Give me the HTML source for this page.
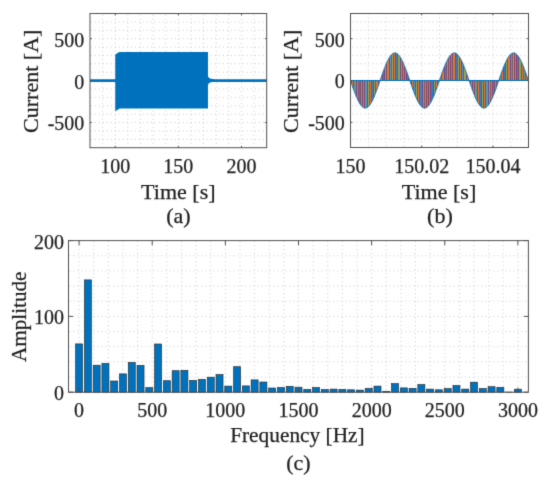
<!DOCTYPE html>
<html><head><meta charset="utf-8"><title>Figure</title>
<style>html,body{margin:0;padding:0;background:#fff;}body{width:550px;height:485px;overflow:hidden;}svg{display:block;}</style>
</head><body>
<svg width="550" height="485" viewBox="0 0 550 485"><defs><filter id="bl" x="0" y="0" width="1" height="1" color-interpolation-filters="sRGB"><feConvolveMatrix order="3" kernelMatrix="0.0144 0.0912 0.0144 0.0912 0.5776 0.0912 0.0144 0.0912 0.0144" edgeMode="duplicate"/></filter></defs><rect width="550" height="485" fill="#fff"/><g filter="url(#bl)"><rect width="550" height="485" fill="#fff"/><path d="M102.62 13.50V147.70M115.24 13.50V147.70M127.86 13.50V147.70M140.49 13.50V147.70M153.11 13.50V147.70M165.73 13.50V147.70M178.35 13.50V147.70M190.97 13.50V147.70M203.59 13.50V147.70M216.21 13.50V147.70M228.84 13.50V147.70M241.46 13.50V147.70M254.08 13.50V147.70" stroke="#cccccc" stroke-width="1" stroke-dasharray="1 3" stroke-dashoffset="2.70" fill="none"/>
<path d="M90.00 139.31H266.70M90.00 130.92H266.70M90.00 122.54H266.70M90.00 114.15H266.70M90.00 105.76H266.70M90.00 97.37H266.70M90.00 88.99H266.70M90.00 80.60H266.70M90.00 72.21H266.70M90.00 63.82H266.70M90.00 55.44H266.70M90.00 47.05H266.70M90.00 38.66H266.70M90.00 30.28H266.70M90.00 21.89H266.70" stroke="#cccccc" stroke-width="1" stroke-dasharray="1 3" stroke-dashoffset="3.20" fill="none"/>
<path d="M90.0 80.60H266.7" stroke="#0072BD" stroke-width="2.8" fill="none"/>
<path d="M115.24 80.60V111.20L119.74 108.50H208.00V52.00H119.24L115.24 54.50Z" fill="#0072BD"/>
<path d="M207.50 74.60C208.30 78.10 209.50 79.20 214.00 79.20V82.00C209.50 82.00 208.30 83.10 207.50 86.60Z" fill="#0072BD"/>
<rect x="90.0" y="13.5" width="176.70" height="134.20" fill="none" stroke="#505050" stroke-width="1"/>
<path d="M115.24 147.70v-1.8M115.24 13.50v1.8M178.35 147.70v-1.8M178.35 13.50v1.8M241.46 147.70v-1.8M241.46 13.50v1.8M90.00 122.54h1.8M266.70 122.54h-1.8M90.00 80.60h1.8M266.70 80.60h-1.8M90.00 38.66h1.8M266.70 38.66h-1.8" stroke="#505050" stroke-width="1" fill="none"/>
<path d="M368.30 13.50V147.50M386.10 13.50V147.50M403.90 13.50V147.50M421.70 13.50V147.50M439.50 13.50V147.50M457.30 13.50V147.50M475.10 13.50V147.50M492.90 13.50V147.50M510.70 13.50V147.50" stroke="#cccccc" stroke-width="1" stroke-dasharray="1 3" stroke-dashoffset="0.00" fill="none"/>
<path d="M350.50 139.12H528.50M350.50 130.75H528.50M350.50 122.38H528.50M350.50 114.00H528.50M350.50 105.62H528.50M350.50 97.25H528.50M350.50 88.88H528.50M350.50 80.50H528.50M350.50 72.12H528.50M350.50 63.75H528.50M350.50 55.38H528.50M350.50 47.00H528.50M350.50 38.62H528.50M350.50 30.25H528.50M350.50 21.88H528.50" stroke="#cccccc" stroke-width="1" stroke-dasharray="1 3" stroke-dashoffset="2.00" fill="none"/>
<defs><clipPath id="sc"><path d="M350.50 80.50L350.50 80.70L350.94 82.00L351.39 83.30L351.83 84.59L352.28 85.87L352.73 87.14L353.17 88.40L353.62 89.64L354.06 90.86L354.50 92.05L354.95 93.22L355.39 94.36L355.84 95.47L356.29 96.55L356.73 97.59L357.18 98.60L357.62 99.56L358.06 100.48L358.51 101.36L358.95 102.19L359.40 102.97L359.85 103.71L360.29 104.39L360.74 105.02L361.18 105.59L361.62 106.11L362.07 106.57L362.51 106.97L362.96 107.32L363.40 107.60L363.85 107.83L364.30 107.99L364.74 108.09L365.19 108.14L365.63 108.12L366.07 108.04L366.52 107.89L366.96 107.69L367.41 107.43L367.86 107.11L368.30 106.72L368.75 106.28L369.19 105.79L369.63 105.23L370.08 104.62L370.52 103.96L370.97 103.25L371.42 102.48L371.86 101.67L372.31 100.81L372.75 99.90L373.19 98.96L373.64 97.97L374.08 96.94L374.53 95.87L374.98 94.77L375.42 93.64L375.87 92.48L376.31 91.30L376.75 90.09L377.20 88.85L377.64 87.60L378.09 86.34L378.54 85.06L378.98 83.77L379.43 82.47L379.87 81.17L380.31 79.87L380.76 78.57L381.20 77.27L381.65 75.98L382.10 74.70L382.54 73.44L382.99 72.19L383.43 70.95L383.88 69.74L384.32 68.56L384.76 67.40L385.21 66.26L385.65 65.16L386.10 64.10L386.55 63.07L386.99 62.08L387.44 61.13L387.88 60.22L388.32 59.36L388.77 58.54L389.22 57.78L389.66 57.06L390.11 56.40L390.55 55.79L391.00 55.23L391.44 54.73L391.88 54.29L392.33 53.91L392.77 53.58L393.22 53.32L393.67 53.11L394.11 52.97L394.56 52.88L395.00 52.86L395.44 52.90L395.89 53.00L396.33 53.17L396.78 53.39L397.23 53.67L397.67 54.01L398.12 54.42L398.56 54.88L399.00 55.39L399.45 55.96L399.89 56.59L400.34 57.27L400.78 58.00L401.23 58.78L401.68 59.61L402.12 60.49L402.56 61.41L403.01 62.37L403.45 63.37L403.90 64.41L404.35 65.49L404.79 66.60L405.24 67.74L405.68 68.91L406.12 70.10L406.57 71.32L407.01 72.56L407.46 73.82L407.90 75.09L408.35 76.37L408.80 77.66L409.24 78.96L409.69 80.26L410.13 81.56L410.57 82.86L411.02 84.16L411.47 85.44L411.91 86.72L412.36 87.98L412.80 89.23L413.25 90.45L413.69 91.65L414.13 92.83L414.58 93.99L415.02 95.11L415.47 96.20L415.92 97.25L416.36 98.27L416.81 99.24L417.25 100.18L417.69 101.07L418.14 101.92L418.58 102.72L419.03 103.47L419.48 104.17L419.92 104.81L420.37 105.40L420.81 105.94L421.25 106.42L421.70 106.84L422.14 107.21L422.59 107.51L423.03 107.76L423.48 107.94L423.93 108.07L424.37 108.13L424.81 108.13L425.26 108.07L425.70 107.95L426.15 107.77L426.60 107.52L427.04 107.22L427.49 106.86L427.93 106.44L428.38 105.96L428.82 105.42L429.26 104.83L429.71 104.19L430.15 103.49L430.60 102.74L431.05 101.95L431.49 101.10L431.94 100.21L432.38 99.28L432.82 98.30L433.27 97.28L433.72 96.23L434.16 95.14L434.61 94.02L435.05 92.87L435.50 91.70L435.94 90.49L436.38 89.27L436.83 88.02L437.27 86.76L437.72 85.49L438.17 84.20L438.61 82.91L439.06 81.61L439.50 80.30L439.94 79.00L440.39 77.70L440.83 76.41L441.28 75.13L441.73 73.86L442.17 72.60L442.62 71.36L443.06 70.14L443.50 68.95L443.95 67.78L444.39 66.64L444.84 65.53L445.28 64.45L445.73 63.41L446.18 62.40L446.62 61.44L447.06 60.52L447.51 59.64L447.95 58.81L448.40 58.03L448.85 57.29L449.29 56.61L449.74 55.98L450.18 55.41L450.62 54.89L451.07 54.43L451.51 54.03L451.96 53.68L452.40 53.40L452.85 53.17L453.30 53.01L453.74 52.91L454.19 52.86L454.63 52.88L455.07 52.96L455.52 53.11L455.97 53.31L456.41 53.57L456.86 53.89L457.30 54.28L457.75 54.72L458.19 55.21L458.63 55.77L459.08 56.38L459.52 57.04L459.97 57.75L460.42 58.52L460.86 59.33L461.31 60.19L461.75 61.10L462.19 62.04L462.64 63.03L463.08 64.06L463.53 65.13L463.98 66.23L464.42 67.36L464.87 68.52L465.31 69.70L465.75 70.91L466.20 72.15L466.64 73.40L467.09 74.66L467.53 75.94L467.98 77.23L468.43 78.53L468.87 79.83L469.31 81.13L469.76 82.43L470.20 83.73L470.65 85.02L471.10 86.30L471.54 87.56L471.99 88.81L472.43 90.05L472.88 91.26L473.32 92.44L473.76 93.60L474.21 94.74L474.65 95.84L475.10 96.90L475.55 97.93L475.99 98.92L476.44 99.87L476.88 100.78L477.32 101.64L477.77 102.46L478.22 103.22L478.66 103.94L479.11 104.60L479.55 105.21L480.00 105.77L480.44 106.27L480.88 106.71L481.33 107.09L481.77 107.42L482.22 107.68L482.66 107.89L483.11 108.03L483.56 108.12L484.00 108.14L484.44 108.10L484.89 108.00L485.34 107.83L485.78 107.61L486.23 107.33L486.67 106.99L487.12 106.58L487.56 106.12L488.00 105.61L488.45 105.04L488.89 104.41L489.34 103.73L489.78 103.00L490.23 102.22L490.68 101.39L491.12 100.51L491.56 99.59L492.01 98.63L492.46 97.63L492.90 96.59L493.35 95.51L493.79 94.40L494.24 93.26L494.68 92.09L495.12 90.90L495.57 89.68L496.01 88.44L496.46 87.18L496.90 85.91L497.35 84.63L497.79 83.34L498.24 82.04L498.69 80.74L499.13 79.44L499.57 78.14L500.02 76.84L500.47 75.56L500.91 74.28L501.36 73.02L501.80 71.77L502.25 70.55L502.69 69.35L503.13 68.17L503.58 67.01L504.02 65.89L504.47 64.80L504.91 63.75L505.36 62.73L505.81 61.76L506.25 60.82L506.69 59.93L507.14 59.08L507.59 58.28L508.03 57.53L508.48 56.83L508.92 56.19L509.37 55.60L509.81 55.06L510.25 54.58L510.70 54.16L511.14 53.79L511.59 53.49L512.03 53.24L512.48 53.06L512.92 52.93L513.37 52.87L513.82 52.87L514.26 52.93L514.71 53.05L515.15 53.23L515.60 53.48L516.04 53.78L516.49 54.14L516.93 54.56L517.38 55.04L517.82 55.58L518.26 56.17L518.71 56.81L519.15 57.51L519.60 58.26L520.04 59.05L520.49 59.90L520.93 60.79L521.38 61.72L521.83 62.70L522.27 63.72L522.72 64.77L523.16 65.86L523.61 66.98L524.05 68.13L524.50 69.30L524.94 70.51L525.38 71.73L525.83 72.98L526.27 74.24L526.72 75.51L527.16 76.80L527.61 78.09L528.06 79.39L528.50 80.70L528.50 80.50Z"/></clipPath></defs>
<g clip-path="url(#sc)"><rect x="349" y="13.5" width="1" height="134.00" fill="#8A4672"/><rect x="350" y="13.5" width="1" height="134.00" fill="#7FAF45"/><rect x="351" y="13.5" width="1" height="134.00" fill="#7A4488"/><rect x="352" y="13.5" width="1" height="134.00" fill="#DC7A2A"/><rect x="353" y="13.5" width="1" height="134.00" fill="#8A4672"/><rect x="354" y="13.5" width="1" height="134.00" fill="#6E9A7A"/><rect x="355" y="13.5" width="1" height="134.00" fill="#6E9A7A"/><rect x="356" y="13.5" width="1" height="134.00" fill="#6A4A9A"/><rect x="357" y="13.5" width="1" height="134.00" fill="#DC7A2A"/><rect x="358" y="13.5" width="1" height="134.00" fill="#94506E"/><rect x="359" y="13.5" width="1" height="134.00" fill="#2F7FC8"/><rect x="360" y="13.5" width="1" height="134.00" fill="#8A4672"/><rect x="361" y="13.5" width="1" height="134.00" fill="#7FAF45"/><rect x="362" y="13.5" width="1" height="134.00" fill="#7A4488"/><rect x="363" y="13.5" width="1" height="134.00" fill="#DC7A2A"/><rect x="364" y="13.5" width="1" height="134.00" fill="#8A4672"/><rect x="365" y="13.5" width="1" height="134.00" fill="#4AA0B8"/><rect x="366" y="13.5" width="1" height="134.00" fill="#4AA0B8"/><rect x="367" y="13.5" width="1" height="134.00" fill="#6A4A9A"/><rect x="368" y="13.5" width="1" height="134.00" fill="#9AAA40"/><rect x="369" y="13.5" width="1" height="134.00" fill="#94506E"/><rect x="370" y="13.5" width="1" height="134.00" fill="#DC7A2A"/><rect x="371" y="13.5" width="1" height="134.00" fill="#8A4672"/><rect x="372" y="13.5" width="1" height="134.00" fill="#3F86C0"/><rect x="373" y="13.5" width="1" height="134.00" fill="#7A4488"/><rect x="374" y="13.5" width="1" height="134.00" fill="#7FAF45"/><rect x="375" y="13.5" width="1" height="134.00" fill="#8A4672"/><rect x="376" y="13.5" width="1" height="134.00" fill="#DC7A2A"/><rect x="377" y="13.5" width="1" height="134.00" fill="#DC7A2A"/><rect x="378" y="13.5" width="1" height="134.00" fill="#6A4A9A"/><rect x="379" y="13.5" width="1" height="134.00" fill="#6E9A7A"/><rect x="380" y="13.5" width="1" height="134.00" fill="#94506E"/><rect x="381" y="13.5" width="1" height="134.00" fill="#DC7A2A"/><rect x="382" y="13.5" width="1" height="134.00" fill="#8A4672"/><rect x="383" y="13.5" width="1" height="134.00" fill="#2F7FC8"/><rect x="384" y="13.5" width="1" height="134.00" fill="#7A4488"/><rect x="385" y="13.5" width="1" height="134.00" fill="#7FAF45"/><rect x="386" y="13.5" width="1" height="134.00" fill="#8A4672"/><rect x="387" y="13.5" width="1" height="134.00" fill="#DC7A2A"/><rect x="388" y="13.5" width="1" height="134.00" fill="#DC7A2A"/><rect x="389" y="13.5" width="1" height="134.00" fill="#6A4A9A"/><rect x="390" y="13.5" width="1" height="134.00" fill="#4AA0B8"/><rect x="391" y="13.5" width="1" height="134.00" fill="#94506E"/><rect x="392" y="13.5" width="1" height="134.00" fill="#9AAA40"/><rect x="393" y="13.5" width="1" height="134.00" fill="#8A4672"/><rect x="394" y="13.5" width="1" height="134.00" fill="#DC7A2A"/><rect x="395" y="13.5" width="1" height="134.00" fill="#7A4488"/><rect x="396" y="13.5" width="1" height="134.00" fill="#3F86C0"/><rect x="397" y="13.5" width="1" height="134.00" fill="#8A4672"/><rect x="398" y="13.5" width="1" height="134.00" fill="#7FAF45"/><rect x="399" y="13.5" width="1" height="134.00" fill="#7FAF45"/><rect x="400" y="13.5" width="1" height="134.00" fill="#6A4A9A"/><rect x="401" y="13.5" width="1" height="134.00" fill="#DC7A2A"/><rect x="402" y="13.5" width="1" height="134.00" fill="#94506E"/><rect x="403" y="13.5" width="1" height="134.00" fill="#6E9A7A"/><rect x="404" y="13.5" width="1" height="134.00" fill="#8A4672"/><rect x="405" y="13.5" width="1" height="134.00" fill="#DC7A2A"/><rect x="406" y="13.5" width="1" height="134.00" fill="#7A4488"/><rect x="407" y="13.5" width="1" height="134.00" fill="#2F7FC8"/><rect x="408" y="13.5" width="1" height="134.00" fill="#8A4672"/><rect x="409" y="13.5" width="1" height="134.00" fill="#7FAF45"/><rect x="410" y="13.5" width="1" height="134.00" fill="#7FAF45"/><rect x="411" y="13.5" width="1" height="134.00" fill="#6A4A9A"/><rect x="412" y="13.5" width="1" height="134.00" fill="#DC7A2A"/><rect x="413" y="13.5" width="1" height="134.00" fill="#94506E"/><rect x="414" y="13.5" width="1" height="134.00" fill="#4AA0B8"/><rect x="415" y="13.5" width="1" height="134.00" fill="#8A4672"/><rect x="416" y="13.5" width="1" height="134.00" fill="#9AAA40"/><rect x="417" y="13.5" width="1" height="134.00" fill="#7A4488"/><rect x="418" y="13.5" width="1" height="134.00" fill="#DC7A2A"/><rect x="419" y="13.5" width="1" height="134.00" fill="#8A4672"/><rect x="420" y="13.5" width="1" height="134.00" fill="#3F86C0"/><rect x="421" y="13.5" width="1" height="134.00" fill="#3F86C0"/><rect x="422" y="13.5" width="1" height="134.00" fill="#6A4A9A"/><rect x="423" y="13.5" width="1" height="134.00" fill="#7FAF45"/><rect x="424" y="13.5" width="1" height="134.00" fill="#94506E"/><rect x="425" y="13.5" width="1" height="134.00" fill="#DC7A2A"/><rect x="426" y="13.5" width="1" height="134.00" fill="#8A4672"/><rect x="427" y="13.5" width="1" height="134.00" fill="#6E9A7A"/><rect x="428" y="13.5" width="1" height="134.00" fill="#7A4488"/><rect x="429" y="13.5" width="1" height="134.00" fill="#DC7A2A"/><rect x="430" y="13.5" width="1" height="134.00" fill="#8A4672"/><rect x="431" y="13.5" width="1" height="134.00" fill="#2F7FC8"/><rect x="432" y="13.5" width="1" height="134.00" fill="#2F7FC8"/><rect x="433" y="13.5" width="1" height="134.00" fill="#6A4A9A"/><rect x="434" y="13.5" width="1" height="134.00" fill="#7FAF45"/><rect x="435" y="13.5" width="1" height="134.00" fill="#94506E"/><rect x="436" y="13.5" width="1" height="134.00" fill="#DC7A2A"/><rect x="437" y="13.5" width="1" height="134.00" fill="#8A4672"/><rect x="438" y="13.5" width="1" height="134.00" fill="#4AA0B8"/><rect x="439" y="13.5" width="1" height="134.00" fill="#7A4488"/><rect x="440" y="13.5" width="1" height="134.00" fill="#9AAA40"/><rect x="441" y="13.5" width="1" height="134.00" fill="#8A4672"/><rect x="442" y="13.5" width="1" height="134.00" fill="#DC7A2A"/><rect x="443" y="13.5" width="1" height="134.00" fill="#DC7A2A"/><rect x="444" y="13.5" width="1" height="134.00" fill="#6A4A9A"/><rect x="445" y="13.5" width="1" height="134.00" fill="#3F86C0"/><rect x="446" y="13.5" width="1" height="134.00" fill="#94506E"/><rect x="447" y="13.5" width="1" height="134.00" fill="#7FAF45"/><rect x="448" y="13.5" width="1" height="134.00" fill="#8A4672"/><rect x="449" y="13.5" width="1" height="134.00" fill="#DC7A2A"/><rect x="450" y="13.5" width="1" height="134.00" fill="#7A4488"/><rect x="451" y="13.5" width="1" height="134.00" fill="#6E9A7A"/><rect x="452" y="13.5" width="1" height="134.00" fill="#8A4672"/><rect x="453" y="13.5" width="1" height="134.00" fill="#DC7A2A"/><rect x="454" y="13.5" width="1" height="134.00" fill="#DC7A2A"/><rect x="455" y="13.5" width="1" height="134.00" fill="#6A4A9A"/><rect x="456" y="13.5" width="1" height="134.00" fill="#2F7FC8"/><rect x="457" y="13.5" width="1" height="134.00" fill="#94506E"/><rect x="458" y="13.5" width="1" height="134.00" fill="#7FAF45"/><rect x="459" y="13.5" width="1" height="134.00" fill="#8A4672"/><rect x="460" y="13.5" width="1" height="134.00" fill="#DC7A2A"/><rect x="461" y="13.5" width="1" height="134.00" fill="#7A4488"/><rect x="462" y="13.5" width="1" height="134.00" fill="#4AA0B8"/><rect x="463" y="13.5" width="1" height="134.00" fill="#8A4672"/><rect x="464" y="13.5" width="1" height="134.00" fill="#9AAA40"/><rect x="465" y="13.5" width="1" height="134.00" fill="#9AAA40"/><rect x="466" y="13.5" width="1" height="134.00" fill="#6A4A9A"/><rect x="467" y="13.5" width="1" height="134.00" fill="#DC7A2A"/><rect x="468" y="13.5" width="1" height="134.00" fill="#94506E"/><rect x="469" y="13.5" width="1" height="134.00" fill="#3F86C0"/><rect x="470" y="13.5" width="1" height="134.00" fill="#8A4672"/><rect x="471" y="13.5" width="1" height="134.00" fill="#7FAF45"/><rect x="472" y="13.5" width="1" height="134.00" fill="#7A4488"/><rect x="473" y="13.5" width="1" height="134.00" fill="#DC7A2A"/><rect x="474" y="13.5" width="1" height="134.00" fill="#8A4672"/><rect x="475" y="13.5" width="1" height="134.00" fill="#6E9A7A"/><rect x="476" y="13.5" width="1" height="134.00" fill="#6E9A7A"/><rect x="477" y="13.5" width="1" height="134.00" fill="#6A4A9A"/><rect x="478" y="13.5" width="1" height="134.00" fill="#DC7A2A"/><rect x="479" y="13.5" width="1" height="134.00" fill="#94506E"/><rect x="480" y="13.5" width="1" height="134.00" fill="#2F7FC8"/><rect x="481" y="13.5" width="1" height="134.00" fill="#8A4672"/><rect x="482" y="13.5" width="1" height="134.00" fill="#7FAF45"/><rect x="483" y="13.5" width="1" height="134.00" fill="#7A4488"/><rect x="484" y="13.5" width="1" height="134.00" fill="#DC7A2A"/><rect x="485" y="13.5" width="1" height="134.00" fill="#8A4672"/><rect x="486" y="13.5" width="1" height="134.00" fill="#4AA0B8"/><rect x="487" y="13.5" width="1" height="134.00" fill="#4AA0B8"/><rect x="488" y="13.5" width="1" height="134.00" fill="#6A4A9A"/><rect x="489" y="13.5" width="1" height="134.00" fill="#9AAA40"/><rect x="490" y="13.5" width="1" height="134.00" fill="#94506E"/><rect x="491" y="13.5" width="1" height="134.00" fill="#DC7A2A"/><rect x="492" y="13.5" width="1" height="134.00" fill="#8A4672"/><rect x="493" y="13.5" width="1" height="134.00" fill="#3F86C0"/><rect x="494" y="13.5" width="1" height="134.00" fill="#7A4488"/><rect x="495" y="13.5" width="1" height="134.00" fill="#7FAF45"/><rect x="496" y="13.5" width="1" height="134.00" fill="#8A4672"/><rect x="497" y="13.5" width="1" height="134.00" fill="#DC7A2A"/><rect x="498" y="13.5" width="1" height="134.00" fill="#DC7A2A"/><rect x="499" y="13.5" width="1" height="134.00" fill="#6A4A9A"/><rect x="500" y="13.5" width="1" height="134.00" fill="#6E9A7A"/><rect x="501" y="13.5" width="1" height="134.00" fill="#94506E"/><rect x="502" y="13.5" width="1" height="134.00" fill="#DC7A2A"/><rect x="503" y="13.5" width="1" height="134.00" fill="#8A4672"/><rect x="504" y="13.5" width="1" height="134.00" fill="#2F7FC8"/><rect x="505" y="13.5" width="1" height="134.00" fill="#7A4488"/><rect x="506" y="13.5" width="1" height="134.00" fill="#7FAF45"/><rect x="507" y="13.5" width="1" height="134.00" fill="#8A4672"/><rect x="508" y="13.5" width="1" height="134.00" fill="#DC7A2A"/><rect x="509" y="13.5" width="1" height="134.00" fill="#DC7A2A"/><rect x="510" y="13.5" width="1" height="134.00" fill="#6A4A9A"/><rect x="511" y="13.5" width="1" height="134.00" fill="#4AA0B8"/><rect x="512" y="13.5" width="1" height="134.00" fill="#94506E"/><rect x="513" y="13.5" width="1" height="134.00" fill="#9AAA40"/><rect x="514" y="13.5" width="1" height="134.00" fill="#8A4672"/><rect x="515" y="13.5" width="1" height="134.00" fill="#DC7A2A"/><rect x="516" y="13.5" width="1" height="134.00" fill="#7A4488"/><rect x="517" y="13.5" width="1" height="134.00" fill="#3F86C0"/><rect x="518" y="13.5" width="1" height="134.00" fill="#8A4672"/><rect x="519" y="13.5" width="1" height="134.00" fill="#7FAF45"/><rect x="520" y="13.5" width="1" height="134.00" fill="#7FAF45"/><rect x="521" y="13.5" width="1" height="134.00" fill="#6A4A9A"/><rect x="522" y="13.5" width="1" height="134.00" fill="#DC7A2A"/><rect x="523" y="13.5" width="1" height="134.00" fill="#94506E"/><rect x="524" y="13.5" width="1" height="134.00" fill="#6E9A7A"/><rect x="525" y="13.5" width="1" height="134.00" fill="#8A4672"/><rect x="526" y="13.5" width="1" height="134.00" fill="#DC7A2A"/><rect x="527" y="13.5" width="1" height="134.00" fill="#7A4488"/><rect x="528" y="13.5" width="1" height="134.00" fill="#2F7FC8"/><rect x="529" y="13.5" width="1" height="134.00" fill="#8A4672"/></g>
<path d="M350.50 80.70L350.94 82.00L351.39 83.30L351.83 84.59L352.28 85.87L352.73 87.14L353.17 88.40L353.62 89.64L354.06 90.86L354.50 92.05L354.95 93.22L355.39 94.36L355.84 95.47L356.29 96.55L356.73 97.59L357.18 98.60L357.62 99.56L358.06 100.48L358.51 101.36L358.95 102.19L359.40 102.97L359.85 103.71L360.29 104.39L360.74 105.02L361.18 105.59L361.62 106.11L362.07 106.57L362.51 106.97L362.96 107.32L363.40 107.60L363.85 107.83L364.30 107.99L364.74 108.09L365.19 108.14L365.63 108.12L366.07 108.04L366.52 107.89L366.96 107.69L367.41 107.43L367.86 107.11L368.30 106.72L368.75 106.28L369.19 105.79L369.63 105.23L370.08 104.62L370.52 103.96L370.97 103.25L371.42 102.48L371.86 101.67L372.31 100.81L372.75 99.90L373.19 98.96L373.64 97.97L374.08 96.94L374.53 95.87L374.98 94.77L375.42 93.64L375.87 92.48L376.31 91.30L376.75 90.09L377.20 88.85L377.64 87.60L378.09 86.34L378.54 85.06L378.98 83.77L379.43 82.47L379.87 81.17L380.31 79.87L380.76 78.57L381.20 77.27L381.65 75.98L382.10 74.70L382.54 73.44L382.99 72.19L383.43 70.95L383.88 69.74L384.32 68.56L384.76 67.40L385.21 66.26L385.65 65.16L386.10 64.10L386.55 63.07L386.99 62.08L387.44 61.13L387.88 60.22L388.32 59.36L388.77 58.54L389.22 57.78L389.66 57.06L390.11 56.40L390.55 55.79L391.00 55.23L391.44 54.73L391.88 54.29L392.33 53.91L392.77 53.58L393.22 53.32L393.67 53.11L394.11 52.97L394.56 52.88L395.00 52.86L395.44 52.90L395.89 53.00L396.33 53.17L396.78 53.39L397.23 53.67L397.67 54.01L398.12 54.42L398.56 54.88L399.00 55.39L399.45 55.96L399.89 56.59L400.34 57.27L400.78 58.00L401.23 58.78L401.68 59.61L402.12 60.49L402.56 61.41L403.01 62.37L403.45 63.37L403.90 64.41L404.35 65.49L404.79 66.60L405.24 67.74L405.68 68.91L406.12 70.10L406.57 71.32L407.01 72.56L407.46 73.82L407.90 75.09L408.35 76.37L408.80 77.66L409.24 78.96L409.69 80.26L410.13 81.56L410.57 82.86L411.02 84.16L411.47 85.44L411.91 86.72L412.36 87.98L412.80 89.23L413.25 90.45L413.69 91.65L414.13 92.83L414.58 93.99L415.02 95.11L415.47 96.20L415.92 97.25L416.36 98.27L416.81 99.24L417.25 100.18L417.69 101.07L418.14 101.92L418.58 102.72L419.03 103.47L419.48 104.17L419.92 104.81L420.37 105.40L420.81 105.94L421.25 106.42L421.70 106.84L422.14 107.21L422.59 107.51L423.03 107.76L423.48 107.94L423.93 108.07L424.37 108.13L424.81 108.13L425.26 108.07L425.70 107.95L426.15 107.77L426.60 107.52L427.04 107.22L427.49 106.86L427.93 106.44L428.38 105.96L428.82 105.42L429.26 104.83L429.71 104.19L430.15 103.49L430.60 102.74L431.05 101.95L431.49 101.10L431.94 100.21L432.38 99.28L432.82 98.30L433.27 97.28L433.72 96.23L434.16 95.14L434.61 94.02L435.05 92.87L435.50 91.70L435.94 90.49L436.38 89.27L436.83 88.02L437.27 86.76L437.72 85.49L438.17 84.20L438.61 82.91L439.06 81.61L439.50 80.30L439.94 79.00L440.39 77.70L440.83 76.41L441.28 75.13L441.73 73.86L442.17 72.60L442.62 71.36L443.06 70.14L443.50 68.95L443.95 67.78L444.39 66.64L444.84 65.53L445.28 64.45L445.73 63.41L446.18 62.40L446.62 61.44L447.06 60.52L447.51 59.64L447.95 58.81L448.40 58.03L448.85 57.29L449.29 56.61L449.74 55.98L450.18 55.41L450.62 54.89L451.07 54.43L451.51 54.03L451.96 53.68L452.40 53.40L452.85 53.17L453.30 53.01L453.74 52.91L454.19 52.86L454.63 52.88L455.07 52.96L455.52 53.11L455.97 53.31L456.41 53.57L456.86 53.89L457.30 54.28L457.75 54.72L458.19 55.21L458.63 55.77L459.08 56.38L459.52 57.04L459.97 57.75L460.42 58.52L460.86 59.33L461.31 60.19L461.75 61.10L462.19 62.04L462.64 63.03L463.08 64.06L463.53 65.13L463.98 66.23L464.42 67.36L464.87 68.52L465.31 69.70L465.75 70.91L466.20 72.15L466.64 73.40L467.09 74.66L467.53 75.94L467.98 77.23L468.43 78.53L468.87 79.83L469.31 81.13L469.76 82.43L470.20 83.73L470.65 85.02L471.10 86.30L471.54 87.56L471.99 88.81L472.43 90.05L472.88 91.26L473.32 92.44L473.76 93.60L474.21 94.74L474.65 95.84L475.10 96.90L475.55 97.93L475.99 98.92L476.44 99.87L476.88 100.78L477.32 101.64L477.77 102.46L478.22 103.22L478.66 103.94L479.11 104.60L479.55 105.21L480.00 105.77L480.44 106.27L480.88 106.71L481.33 107.09L481.77 107.42L482.22 107.68L482.66 107.89L483.11 108.03L483.56 108.12L484.00 108.14L484.44 108.10L484.89 108.00L485.34 107.83L485.78 107.61L486.23 107.33L486.67 106.99L487.12 106.58L487.56 106.12L488.00 105.61L488.45 105.04L488.89 104.41L489.34 103.73L489.78 103.00L490.23 102.22L490.68 101.39L491.12 100.51L491.56 99.59L492.01 98.63L492.46 97.63L492.90 96.59L493.35 95.51L493.79 94.40L494.24 93.26L494.68 92.09L495.12 90.90L495.57 89.68L496.01 88.44L496.46 87.18L496.90 85.91L497.35 84.63L497.79 83.34L498.24 82.04L498.69 80.74L499.13 79.44L499.57 78.14L500.02 76.84L500.47 75.56L500.91 74.28L501.36 73.02L501.80 71.77L502.25 70.55L502.69 69.35L503.13 68.17L503.58 67.01L504.02 65.89L504.47 64.80L504.91 63.75L505.36 62.73L505.81 61.76L506.25 60.82L506.69 59.93L507.14 59.08L507.59 58.28L508.03 57.53L508.48 56.83L508.92 56.19L509.37 55.60L509.81 55.06L510.25 54.58L510.70 54.16L511.14 53.79L511.59 53.49L512.03 53.24L512.48 53.06L512.92 52.93L513.37 52.87L513.82 52.87L514.26 52.93L514.71 53.05L515.15 53.23L515.60 53.48L516.04 53.78L516.49 54.14L516.93 54.56L517.38 55.04L517.82 55.58L518.26 56.17L518.71 56.81L519.15 57.51L519.60 58.26L520.04 59.05L520.49 59.90L520.93 60.79L521.38 61.72L521.83 62.70L522.27 63.72L522.72 64.77L523.16 65.86L523.61 66.98L524.05 68.13L524.50 69.30L524.94 70.51L525.38 71.73L525.83 72.98L526.27 74.24L526.72 75.51L527.16 76.80L527.61 78.09L528.06 79.39L528.50 80.70" stroke="#0072BD" stroke-width="0.9" fill="none"/>
<path d="M350.5 80.50H528.5" stroke="#0072BD" stroke-width="1.0" fill="none"/>
<rect x="350.5" y="13.5" width="178.00" height="134.00" fill="none" stroke="#505050" stroke-width="1"/>
<path d="M350.50 147.50v-1.8M350.50 13.50v1.8M421.70 147.50v-1.8M421.70 13.50v1.8M492.90 147.50v-1.8M492.90 13.50v1.8M350.50 122.38h1.8M528.50 122.38h-1.8M350.50 80.50h1.8M528.50 80.50h-1.8M350.50 38.62h1.8M528.50 38.62h-1.8" stroke="#505050" stroke-width="1" fill="none"/>
<path d="M79.10 240.60V392.20M93.73 240.60V392.20M108.35 240.60V392.20M122.98 240.60V392.20M137.61 240.60V392.20M152.23 240.60V392.20M166.86 240.60V392.20M181.49 240.60V392.20M196.11 240.60V392.20M210.74 240.60V392.20M225.37 240.60V392.20M239.99 240.60V392.20M254.62 240.60V392.20M269.25 240.60V392.20M283.87 240.60V392.20M298.50 240.60V392.20M313.13 240.60V392.20M327.75 240.60V392.20M342.38 240.60V392.20M357.01 240.60V392.20M371.63 240.60V392.20M386.26 240.60V392.20M400.89 240.60V392.20M415.51 240.60V392.20M430.14 240.60V392.20M444.77 240.60V392.20M459.39 240.60V392.20M474.02 240.60V392.20M488.65 240.60V392.20M503.27 240.60V392.20M517.90 240.60V392.20" stroke="#cccccc" stroke-width="1" stroke-dasharray="1 3" stroke-dashoffset="3.50" fill="none"/>
<path d="M68.50 377.04H528.40M68.50 361.88H528.40M68.50 346.72H528.40M68.50 331.56H528.40M68.50 316.40H528.40M68.50 301.24H528.40M68.50 286.08H528.40M68.50 270.92H528.40M68.50 255.76H528.40" stroke="#cccccc" stroke-width="1" stroke-dasharray="1 3" stroke-dashoffset="3.10" fill="none"/>
<g fill="#0072BD" stroke="#222" stroke-width="0.6"><rect x="75.59" y="343.90" width="7.02" height="48.30"/><rect x="84.37" y="279.90" width="7.02" height="112.30"/><rect x="93.14" y="365.20" width="7.02" height="27.00"/><rect x="101.92" y="363.40" width="7.02" height="28.80"/><rect x="110.69" y="381.00" width="7.02" height="11.20"/><rect x="119.47" y="373.90" width="7.02" height="18.30"/><rect x="128.25" y="362.40" width="7.02" height="29.80"/><rect x="137.02" y="365.40" width="7.02" height="26.80"/><rect x="145.80" y="387.60" width="7.02" height="4.60"/><rect x="154.57" y="344.00" width="7.02" height="48.20"/><rect x="163.35" y="380.70" width="7.02" height="11.50"/><rect x="172.13" y="370.70" width="7.02" height="21.50"/><rect x="180.90" y="370.30" width="7.02" height="21.90"/><rect x="189.68" y="380.40" width="7.02" height="11.80"/><rect x="198.45" y="379.40" width="7.02" height="12.80"/><rect x="207.23" y="377.20" width="7.02" height="15.00"/><rect x="216.01" y="374.50" width="7.02" height="17.70"/><rect x="224.78" y="386.10" width="7.02" height="6.10"/><rect x="233.56" y="366.70" width="7.02" height="25.50"/><rect x="242.33" y="385.90" width="7.02" height="6.30"/><rect x="251.11" y="379.90" width="7.02" height="12.30"/><rect x="259.89" y="382.00" width="7.02" height="10.20"/><rect x="268.66" y="388.00" width="7.02" height="4.20"/><rect x="277.44" y="387.50" width="7.02" height="4.70"/><rect x="286.21" y="386.30" width="7.02" height="5.90"/><rect x="294.99" y="387.20" width="7.02" height="5.00"/><rect x="303.77" y="389.40" width="7.02" height="2.80"/><rect x="312.54" y="387.50" width="7.02" height="4.70"/><rect x="321.32" y="389.60" width="7.02" height="2.60"/><rect x="330.09" y="389.10" width="7.02" height="3.10"/><rect x="338.87" y="389.40" width="7.02" height="2.80"/><rect x="347.65" y="389.80" width="7.02" height="2.40"/><rect x="356.42" y="390.10" width="7.02" height="2.10"/><rect x="365.20" y="388.40" width="7.02" height="3.80"/><rect x="373.97" y="386.10" width="7.02" height="6.10"/><rect x="382.75" y="391.30" width="7.02" height="0.90"/><rect x="391.53" y="383.60" width="7.02" height="8.60"/><rect x="400.30" y="387.90" width="7.02" height="4.30"/><rect x="409.08" y="388.30" width="7.02" height="3.90"/><rect x="417.85" y="384.50" width="7.02" height="7.70"/><rect x="426.63" y="389.10" width="7.02" height="3.10"/><rect x="435.41" y="389.80" width="7.02" height="2.40"/><rect x="444.18" y="388.60" width="7.02" height="3.60"/><rect x="452.96" y="385.50" width="7.02" height="6.70"/><rect x="461.73" y="389.10" width="7.02" height="3.10"/><rect x="470.51" y="382.20" width="7.02" height="10.00"/><rect x="479.29" y="388.50" width="7.02" height="3.70"/><rect x="488.06" y="386.70" width="7.02" height="5.50"/><rect x="496.84" y="387.30" width="7.02" height="4.90"/><rect x="505.61" y="392.10" width="7.02" height="0.10"/><rect x="514.39" y="389.20" width="7.02" height="3.00"/></g>
<rect x="68.5" y="240.6" width="459.90" height="151.60" fill="none" stroke="#505050" stroke-width="1"/>
<path d="M79.10 392.20v-4.6M79.10 240.60v4.6M152.23 392.20v-4.6M152.23 240.60v4.6M225.37 392.20v-4.6M225.37 240.60v4.6M298.50 392.20v-4.6M298.50 240.60v4.6M371.63 392.20v-4.6M371.63 240.60v4.6M444.77 392.20v-4.6M444.77 240.60v4.6M517.90 392.20v-4.6M517.90 240.60v4.6M68.50 392.20h4.6M528.40 392.20h-4.6M68.50 316.40h4.6M528.40 316.40h-4.6M68.50 240.60h4.6M528.40 240.60h-4.6" stroke="#505050" stroke-width="1" fill="none"/>
<g font-family="'Liberation Serif','Times New Roman',serif" fill="#1e1e1e" stroke="#1e1e1e" stroke-width="0.25">
<text x="84.30" y="46.56" font-size="20" text-anchor="end">500</text>
<text x="84.30" y="88.50" font-size="20" text-anchor="end">0</text>
<text x="84.30" y="130.44" font-size="20" text-anchor="end">-500</text>
<text x="115.24" y="173.20" font-size="20" text-anchor="middle">100</text>
<text x="178.35" y="173.20" font-size="20" text-anchor="middle">150</text>
<text x="241.46" y="173.20" font-size="20" text-anchor="middle">200</text>
<text x="178.35" y="198.80" font-size="22" text-anchor="middle" textLength="74.5" lengthAdjust="spacingAndGlyphs">Time [s]</text>
<text x="178.35" y="223.20" font-size="22" text-anchor="middle">(a)</text>
<text x="38.10" y="81.30" font-size="22" text-anchor="middle" transform="rotate(-90 38.10 81.30)" textLength="103.5" lengthAdjust="spacingAndGlyphs">Current [A]</text>
<text x="344.80" y="46.52" font-size="20" text-anchor="end">500</text>
<text x="344.80" y="88.40" font-size="20" text-anchor="end">0</text>
<text x="344.80" y="130.28" font-size="20" text-anchor="end">-500</text>
<text x="350.50" y="173.20" font-size="20" text-anchor="middle">150</text>
<text x="421.70" y="173.20" font-size="20" text-anchor="middle">150.02</text>
<text x="492.90" y="173.20" font-size="20" text-anchor="middle">150.04</text>
<text x="439.00" y="198.80" font-size="22" text-anchor="middle" textLength="74.5" lengthAdjust="spacingAndGlyphs">Time [s]</text>
<text x="439.90" y="223.20" font-size="22" text-anchor="middle">(b)</text>
<text x="298.30" y="81.30" font-size="22" text-anchor="middle" transform="rotate(-90 298.30 81.30)" textLength="103.5" lengthAdjust="spacingAndGlyphs">Current [A]</text>
<text x="64.00" y="400.10" font-size="20" text-anchor="end">0</text>
<text x="64.00" y="324.30" font-size="20" text-anchor="end">100</text>
<text x="64.00" y="248.50" font-size="20" text-anchor="end">200</text>
<text x="79.10" y="417.00" font-size="20" text-anchor="middle">0</text>
<text x="152.23" y="417.00" font-size="20" text-anchor="middle">500</text>
<text x="225.37" y="417.00" font-size="20" text-anchor="middle">1000</text>
<text x="298.50" y="417.00" font-size="20" text-anchor="middle">1500</text>
<text x="371.63" y="417.00" font-size="20" text-anchor="middle">2000</text>
<text x="444.77" y="417.00" font-size="20" text-anchor="middle">2500</text>
<text x="517.90" y="417.00" font-size="20" text-anchor="middle">3000</text>
<text x="297.40" y="441.60" font-size="22" text-anchor="middle" textLength="134.5" lengthAdjust="spacingAndGlyphs">Frequency [Hz]</text>
<text x="298.50" y="469.70" font-size="22" text-anchor="middle">(c)</text>
<text x="25.90" y="316.80" font-size="22" text-anchor="middle" transform="rotate(-90 25.90 316.80)" textLength="90.5" lengthAdjust="spacingAndGlyphs">Amplitude</text>
</g></g></svg>
</body></html>
